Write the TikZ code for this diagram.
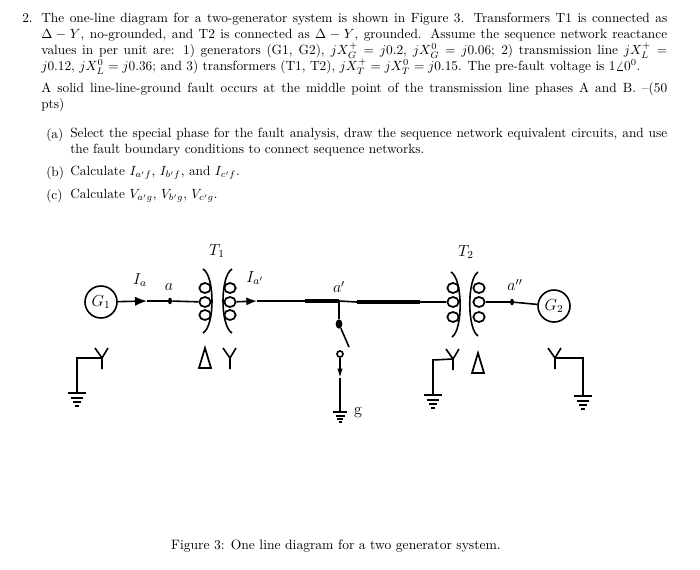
\documentclass[tikz,border=0pt]{standalone}
\usetikzlibrary{arrows.meta,shapes.geometric}
\tikzset{
  body/.style={anchor=north west, inner sep=0pt, align=justify},
  mach/.style={circle, draw, line width=1.2pt, minimum size=24pt, inner sep=0pt, font=\large},
  coil/.style={ellipse, draw, line width=1.3pt, minimum width=8.5pt, minimum height=7.5pt, inner sep=0pt},
  busdot/.style={ellipse, fill, minimum width=3pt, minimum height=5pt, inner sep=0pt},
  lbl/.style={inner sep=0pt},
  tag/.style={inner sep=0pt, font=\large},
  wire/.style={line width=1.2pt},
  heavy/.style={line width=2.8pt},
  gnd/.pic={
    \draw[line width=1.3pt] (-9,0) -- (9,0);
    \draw[line width=1.3pt] (-6,5) -- (6,5);
    \draw[line width=1.3pt] (-4,9) -- (4,9);
    \draw[line width=1.5pt] (-2,13) -- (2,13);
  },
  wye/.pic={
    \draw[line width=1.2pt] (0,11) -- (0,0) -- (-7,-10);
    \draw[line width=1.2pt] (0,0) -- (6,-10);
  },
  delta/.pic={
    \draw[line width=1.3pt] (0,-10) -- (6,10) -- (-6,10) -- cycle;
  },
}
\begin{document}
\begin{tikzpicture}[x=.75pt, y=-.75pt]
\useasboundingbox (0,0) rectangle (700,569);
% question text
\node[lbl, anchor=north west] (num) at (22,13){2.};
\node[body, text width=469.5pt] (para1) at (41,13){The one-line diagram for a two-generator system is shown in Figure 3. Transformers T1 is connected as $\Delta-Y$, no-grounded, and T2 is connected as $\Delta-Y$, grounded. Assume the sequence network reactance values in per unit are: 1) generators (G1, G2), $jX_G^+=j0.2$, $jX_G^0=j0.06$; 2) transmission line $jX_L^+=$\linebreak $j0.12$, $jX_L^0=j0.36$; and 3) transformers (T1, T2), $jX_T^+=jX_T^0=j0.15$. The pre-fault voltage is $1\angle 0^0$.};
\node[body, text width=469.5pt] (para2) at (41,82){A solid line-line-ground fault occurs at the middle point of the transmission line phases A and B. --(50\linebreak pts)};
\node[lbl, anchor=north west] (itema) at (46,128){(a)};
\node[body, text width=447.75pt] (texta) at (70,128){Select the special phase for the fault analysis, draw the sequence network equivalent circuits, and use the fault boundary conditions to connect sequence networks.};
\node[lbl, anchor=north west] (itemb) at (46,166){(b)};
\node[lbl, anchor=north west] (textb) at (70,166){Calculate $I_{a'f}$, $I_{b'f}$, and $I_{c'f}$.};
\node[lbl, anchor=north west] (itemc) at (46,189){(c)};
\node[lbl, anchor=north west] (textc) at (70,189){Calculate $V_{a'g}$, $V_{b'g}$, $V_{c'g}$.};
% machines
\node[mach] (g1) at (101,302){$G_1$};
\node[mach] (g2) at (554,306){$G_2$};
% T1
\node[coil] (t1a) at (205,288){};
\node[coil] (t1b) at (205,302){};
\node[coil] (t1c) at (205,315){};
\node[coil] (t1d) at (230,288){};
\node[coil] (t1e) at (230,302){};
\node[coil] (t1f) at (230,315){};
\draw[wire] (203,269) .. controls (215,276) and (215,326) .. (203,333);
\draw[wire] (232,269) .. controls (220,276) and (220,326) .. (232,333);
\node[tag] (t1) at (217,251){$T_1$};
% T2
\node[coil] (t2a) at (453,288){};
\node[coil] (t2b) at (453,302){};
\node[coil] (t2c) at (453,317){};
\node[coil] (t2d) at (479,288){};
\node[coil] (t2e) at (479,302){};
\node[coil] (t2f) at (479,317){};
\draw[wire] (451,272) .. controls (463,279) and (463,330) .. (452,337);
\draw[wire] (478,272) .. controls (467,279) and (467,329) .. (478,336);
\node[tag] (t2) at (466,252){$T_2$};
% bus
\node[busdot] (dota) at (170,301){};
\node[busdot] (dotb) at (512,302){};
\coordinate (ia) at (147,301);
\coordinate (ib) at (257,301);
\coordinate (h1) at (305,301);
\coordinate (fp) at (339,301);
\coordinate (h2) at (357,302);
\coordinate (h3) at (420,302);
\draw[wire, -{Latex[length=9pt,width=7pt]}] (g1) -- (ia);
\draw[wire] (ia) -- (dota);
\draw[wire] (dota) -- (t1b);
\draw[wire, -{Latex[length=8pt,width=6pt]}] (t1e) -- (ib);
\draw[wire] (ib) -- (h1);
\draw[heavy] (h1) -- (fp);
\draw[wire] (fp) -- (h2);
\draw[heavy] (h2) -- (h3);
\draw[wire] (h3) -- (t2b);
\draw[wire] (t2e) -- (dotb);
\draw[wire] (dotb) -- (g2);
\node[tag] (la) at (140,280){$I_a$};
\node[tag] (lb) at (169,287){$a$};
\node[tag] (lc) at (255,278){$I_{a'}$};
\node[tag] (ld) at (339,287){$a'$};
\node[tag] (le) at (515,285){$a''$};
% fault
\node[busdot, minimum width=5pt, minimum height=7pt] (sw) at (339,324){};
\coordinate (tip) at (349,347);
\node[circle, draw, line width=1.2pt, minimum size=4.5pt, inner sep=0pt] (swb) at (340,354){};
\coordinate (fa) at (340,378);
\coordinate (fg) at (340,412);
\draw[wire] (fp) -- (sw);
\draw[wire] (sw) -- (tip);
\draw[wire, -{Latex[length=7pt,width=4pt]}] (swb) -- (fa);
\draw[wire] (fa) -- (fg);
\pic[scale=.75] at (fg) {gnd};
\node[tag] (lg) at (358,413){g};
% grounded neutrals
\coordinate (n1) at (102,358);
\coordinate (c1) at (77,358);
\coordinate (e1) at (77,393);
\pic at (n1) {wye};
\draw[wire] (n1) -- (c1) -- (e1);
\pic at (e1) {gnd};
\coordinate (n2) at (453,359);
\coordinate (c2) at (433,360);
\coordinate (e2) at (433,395);
\pic at (n2) {wye};
\draw[wire] (n2) -- (c2) -- (e2);
\pic at (e2) {gnd};
\coordinate (n3) at (555,358);
\coordinate (c3) at (583,358);
\coordinate (e3) at (583,396);
\pic at (n3) {wye};
\draw[wire] (n3) -- (c3) -- (e3);
\pic at (e3) {gnd};
% winding connections
\pic at (205,358) {delta};
\pic at (230,358) {wye};
\pic at (478,363) {delta};
% caption
\node[lbl, scale=1.02] (cap) at (336,546){Figure 3: One line diagram for a two generator system.};
\end{tikzpicture}
\end{document}
